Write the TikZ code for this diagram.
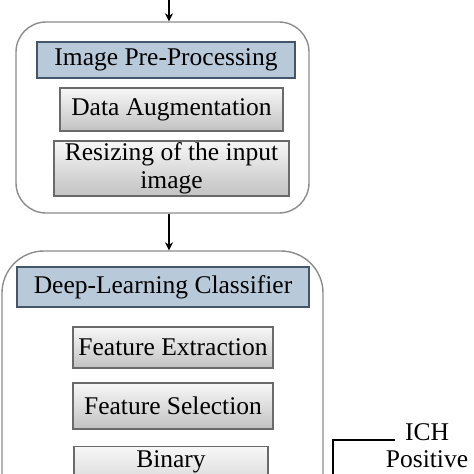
\documentclass[tikz,border=0pt]{standalone}
\usepackage{fontspec}
\setmainfont{Liberation Serif}
\usetikzlibrary{arrows.meta}
\definecolor{bluefill}{HTML}{B8C9D9}
\definecolor{blueline}{HTML}{44566A}
\definecolor{outerline}{HTML}{8C8C8C}
\definecolor{gboxline}{HTML}{6A6A6A}
\tikzset{
  outerbox/.style={draw=outerline, line width=1.4pt, rounded corners=#1, inner sep=0pt},
  headbox/.style={draw=blueline, fill=bluefill, line width=1.2pt, inner sep=0pt, align=center},
  gbox/.style={draw=gboxline, line width=1.2pt, top color=gray!6, bottom color=gray!48, inner sep=0pt, align=center},
  arr/.style={line width=1.2pt, -{Stealth[length=8pt,width=8pt]}},
  every node/.style={font=\fontsize{25.5}{28}\selectfont}
}
\begin{document}
\begin{tikzpicture}[x=1pt,y=-1pt]
\useasboundingbox (0,0) rectangle (474,474);
\clip (0,0) rectangle (474,474);
% outer boxes
\node[outerbox=30pt, minimum width=293pt, minimum height=191pt] (b1) at (162.5,117.5) {};
\node[outerbox=42pt, minimum width=321pt, minimum height=309pt] (b2) at (162.5,405.5) {};
% first group
\node[headbox, minimum width=258pt, minimum height=36pt] (ipp) at (166,60) {Image Pre-Processing};
\node[gbox, minimum width=223pt, minimum height=43pt] (da) at (171.5,109.5) {Data Augmentation};
\node[gbox, minimum width=235pt, minimum height=55pt] (rz) at (171.5,168.5) {Resizing of the input\\image};
% second group
\node[headbox, minimum width=292pt, minimum height=40pt] (dlc) at (163,287) {Deep-Learning Classifier};
\node[gbox, minimum width=200pt, minimum height=41pt] (fe) at (173,347.5) {Feature Extraction};
\node[gbox, minimum width=200pt, minimum height=46pt] (fs) at (173,406) {Feature Selection};
\node[gbox, anchor=north, minimum width=194pt, inner ysep=4pt, text height=17pt, text depth=40pt] (bin) at (171,446) {Binary};
% arrows
\coordinate (in) at (169,0);
\draw[arr] (in) -- (b1.north -| in);
\draw[arr] (b1.south -| in) -- (b2.north -| in);
% ICH positive
\node[anchor=base, inner xsep=10pt] (ich) at (427,440) {ICH};
\node[anchor=base] (pos) at (427,467) {Positive};
\coordinate (c1) at (333,500);
\draw[line width=1.1pt] (c1) |- (ich.base west);
\end{tikzpicture}
\end{document}
